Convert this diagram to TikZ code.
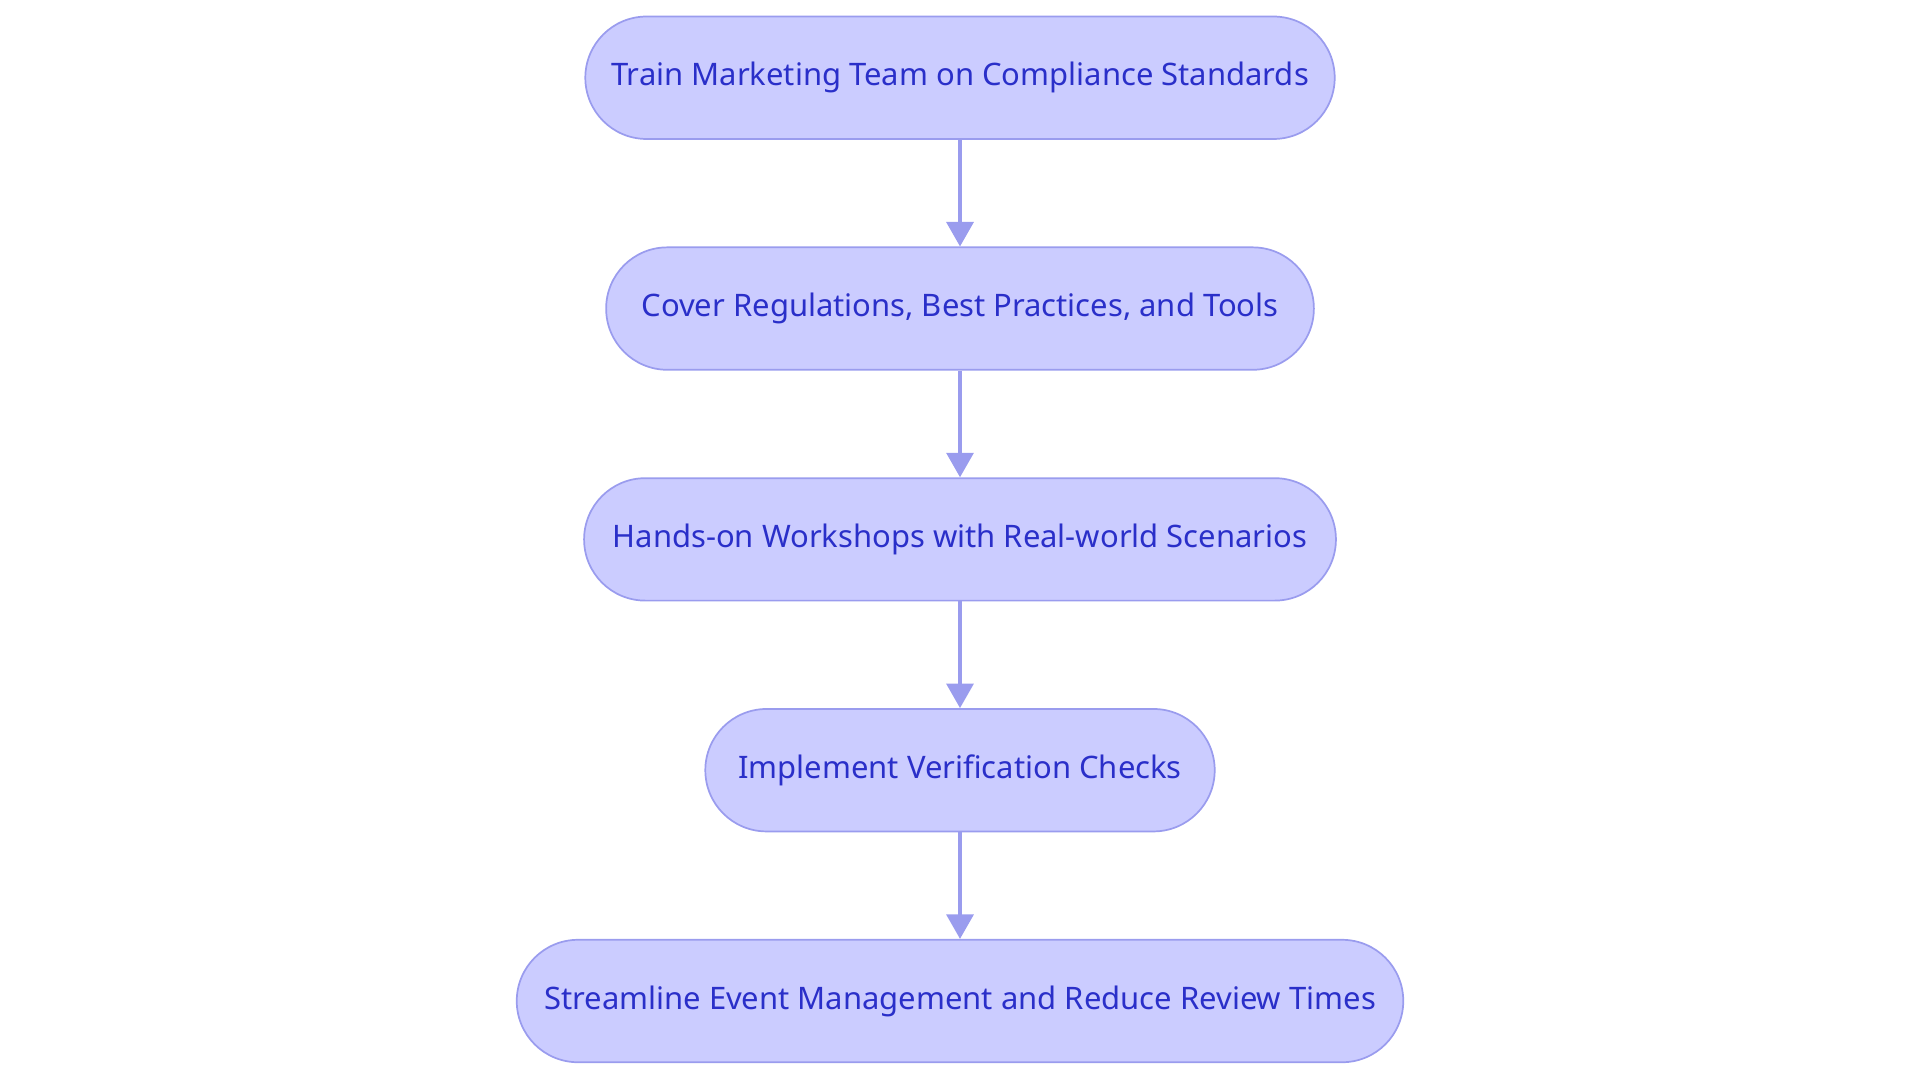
\documentclass[tikz,border=0pt]{standalone}
\usepackage{fontspec}
\setmainfont{Noto Sans}
\usetikzlibrary{arrows.meta}
\definecolor{boxfill}{HTML}{CBCCFF}
\definecolor{boxline}{HTML}{9A9CEE}
\definecolor{boxtext}{HTML}{2A2FC9}
\begin{document}
\begin{tikzpicture}[
    stage/.style={draw=boxline, fill=boxfill, rounded corners=0.5cm, minimum height=1cm, inner sep=0pt, text=boxtext, font=\fontsize{7.2pt}{8pt}\selectfont},
    link/.style={draw=boxline, line width=0.8pt, -{Triangle[length=0.2cm, width=0.22cm]}}
    ]
    \useasboundingbox (0, 0) rectangle (15.68, -8.84);

    %Nodes
    \node[stage, minimum width=6.12cm] at (7.84, -0.635) (train) {Train Marketing Team on Compliance Standards};
    \node[stage, minimum width=5.78cm] at (7.84, -2.52) (cover) {Cover Regulations, Best Practices, and Tools};
    \node[stage, minimum width=6.14cm] at (7.84, -4.405) (hands) {Hands-on Workshops with Real-world Scenarios};
    \node[stage, minimum width=4.16cm] at (7.84, -6.29) (verify) {Implement Verification Checks};
    \node[stage, minimum width=7.24cm] at (7.84, -8.175) (stream) {Streamline Event Management and Reduce Review Times};

    %Lines
    \draw[link] (train) -- (cover);
    \draw[link] (cover) -- (hands);
    \draw[link] (hands) -- (verify);
    \draw[link] (verify) -- (stream);
\end{tikzpicture}
\end{document}
